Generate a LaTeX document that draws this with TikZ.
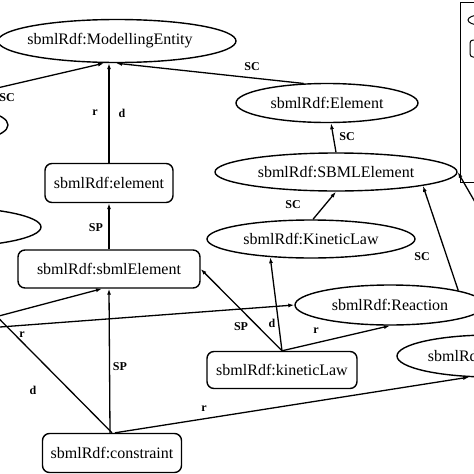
\documentclass[tikz,border=0pt]{standalone}
\usepackage{fontspec}
\setmainfont{Liberation Serif}
\usetikzlibrary{shapes.geometric,arrows.meta}
\begin{document}
\begin{tikzpicture}[x=1pt,y=-1pt,
  ell/.style={draw, ellipse, line width=1.4pt, inner sep=0pt, font=\fontsize{16}{18}\selectfont},
  rbox/.style={draw, rounded corners=7pt, line width=1.4pt, inner sep=0pt, font=\fontsize{16}{18}\selectfont},
  lab/.style={font=\bfseries\fontsize{12}{14}\selectfont, inner sep=0pt},
  arr/.style={line width=1.3pt, -{Latex[length=6pt,width=4pt]}}]
\useasboundingbox (0,0) rectangle (474,474);
\clip (0,0) rectangle (474,474);
% class ellipses
\node[ell, minimum width=238pt, minimum height=43pt] (me) at (117,41) {\hspace*{-14pt}sbmlRdf:ModellingEntity};
\node[ell, minimum width=182pt, minimum height=39pt] (el) at (327,103) {sbmlRdf:Element};
\node[ell, minimum width=242pt, minimum height=38pt] (se) at (336,172) {sbmlRdf:SBMLElement};
\node[ell, minimum width=208pt, minimum height=38pt] (kl) at (311,239) {sbmlRdf:KineticLaw};
\node[ell, minimum width=190pt, minimum height=40pt] (re) at (390,305) {sbmlRdf:Reaction};
\node[ell, minimum width=188pt, minimum height=42pt] (cs) at (491,356) {sbmlRdf:Constraint};
\node[ell, minimum width=150pt, minimum height=40pt] (lA) at (-67,125) {};
\node[ell, minimum width=200pt, minimum height=40pt] (lB) at (-59,227) {};
% property boxes
\node[rbox, minimum width=128pt, minimum height=39pt] (elem) at (109,183) {sbmlRdf:element};
\node[rbox, minimum width=182pt, minimum height=38pt] (sel) at (109,269) {sbmlRdf:sbmlElement};
\node[rbox, minimum width=150pt, minimum height=37pt] (klp) at (282,370) {sbmlRdf:kineticLaw};
\node[rbox, minimum width=139pt, minimum height=39pt] (con) at (112,453) {sbmlRdf:constraint};
% legend (cut off)
\node[draw, line width=1.4pt, minimum width=60pt, minimum height=180pt, anchor=north west, inner sep=0pt] (leg) at (460,2) {};
\node[ell, line width=1pt, minimum width=24pt, minimum height=10pt] (legE) at (480,20) {};
\node[rbox, rounded corners=3pt, line width=1pt, minimum width=30pt, minimum height=17pt] (legB) at (485,48.5) {};
% off-picture ends
\coordinate (oA) at (-20,92);
\coordinate (oB) at (-20,321);
\coordinate (oC) at (-20,328.5);
\coordinate (oD) at (-15,304.5);
\coordinate (oE) at (490,228);
% connectors
\draw[arr] (elem.north) -- (elem.north |- me.south);
\draw[arr] (oA) -- ([xshift=-13pt]me.south);
\draw[arr] (el.140) -- ([xshift=-1pt]me.south);
\draw[arr] (se.north) -- ([xshift=4pt]el.south);
\draw[arr] ([xshift=2pt]kl.north) -- (se.south);
\draw[arr] (re.12) -- (se.-9);
\draw[arr] (oE) -- (se.east);
\draw[arr] (sel.north) -- (elem.south);
\draw[arr] ([xshift=-2pt]con.north) -- (sel.south);
\draw[arr] (klp.north) -- (sel.east);
\draw[arr] (klp.north) -- (kl.204);
\draw[arr] (klp.north) -- (re.south);
\draw[arr] (oB) -- ([xshift=-7pt]sel.south);
\draw[arr] (oC) -- (re.west);
\draw[arr] (con.north) -- (oD);
\draw[arr] ([xshift=3pt]con.north) -- (cs.224);
% labels
\node[lab] (t1) at (95,113) {r};
\node[lab] (t2) at (122,113) {d};
\node[lab] (t3) at (7,98) {SC};
\node[lab] (t4) at (252,67) {SC};
\node[lab] (t5) at (347,137) {SC};
\node[lab] (t6) at (96,228) {SP};
\node[lab] (t7) at (293,205) {SC};
\node[lab] (t8) at (422,257) {SC};
\node[lab] (t9) at (241,327) {SP};
\node[lab] (t10) at (272,323) {d};
\node[lab] (t11) at (316,331) {r};
\node[lab] (t12) at (120,367) {SP};
\node[lab] (t13) at (22,335) {r};
\node[lab] (t14) at (33,390) {d};
\node[lab] (t15) at (204,409) {r};
\end{tikzpicture}
\end{document}
